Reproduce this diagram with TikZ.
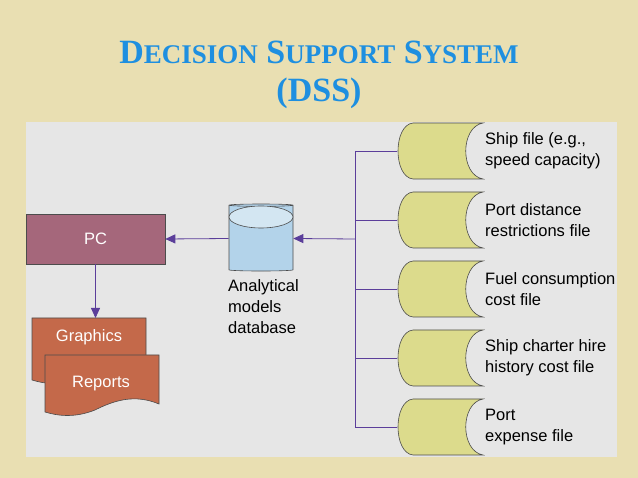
\documentclass[tikz,border=0pt]{standalone}
\usepackage{fontspec}
\setmainfont{Liberation Sans}
\newfontfamily\titlefont{Liberation Serif}
\usetikzlibrary{arrows.meta,shapes.geometric}
\definecolor{bgtan}{HTML}{E9DFB2}
\definecolor{panel}{HTML}{E6E6E6}
\definecolor{pcfill}{HTML}{A5677B}
\definecolor{docfill}{HTML}{C4694A}
\definecolor{filefill}{HTML}{DCDB8C}
\definecolor{dbfill}{HTML}{B3D3EA}
\definecolor{dbtop}{HTML}{D3E6F2}
\definecolor{linec}{HTML}{5B3E9A}
\definecolor{titleblue}{HTML}{1E8FE0}
\begin{document}
\begin{tikzpicture}[x=1pt,y=-1pt,
  lbl/.style={font=\fontsize{16.5}{21}\selectfont,align=left,anchor=west,inner sep=0pt},
  wtxt/.style={text=white,font=\fontsize{16.5}{20}\selectfont},
  conn/.style={draw=linec,line width=0.8pt},
  arr/.style={conn,-{Triangle[length=10pt,width=9pt]}},
  shp/.style={draw=black!70,line width=0.6pt}]
\useasboundingbox (0,0) rectangle (638,478);
\fill[bgtan] (0,0) rectangle (638,478);
\fill[panel] (26,122) rectangle (617,457);
\node[font=\titlefont\bfseries\fontsize{34}{38}\selectfont,text=titleblue,draw=black!60,line width=0pt,draw opacity=0] (t1) at (319,52) {D{\fontsize{27}{30}\selectfont ECISION} S{\fontsize{27}{30}\selectfont UPPORT} S{\fontsize{27}{30}\selectfont YSTEM}};
\node[font=\titlefont\bfseries\fontsize{34}{38}\selectfont,text=titleblue] (t2) at (319,93) {(DSS)};
% PC
\node[shp,fill=pcfill,minimum width=139pt,minimum height=50pt,wtxt] (pc) at (95.5,239) {PC};
% docs
\path[shp,fill=docfill] (32,318) -- (146,318) -- (146,372) .. controls (120,362) and (100,368) .. (80,378) .. controls (60,386) and (45,384) .. (32,380) -- cycle;
\node[wtxt] (gr) at (89,337) {Graphics};
\path[shp,fill=docfill] (45,355) -- (159,355) -- (159,404) .. controls (135,394) and (115,400) .. (95,410) .. controls (75,418) and (58,416) .. (45,412) -- cycle;
\node[wtxt] (rp) at (101,384) {Reports};
% database
\node[cylinder,shape border rotate=90,shp,fill=dbfill,minimum width=64pt,minimum height=67pt,aspect=0.35] (db) at (261,238.5) {};
\draw[shp,fill=dbtop] (261,217) ellipse [x radius=32pt,y radius=11pt];
\node[lbl,anchor=north west] (dbl) at (228,279) {Analytical\\models\\database};
% files
\coordinate (bus) at (355,239);
\foreach \i/\y/\t in {1/123/{Ship file (e.g.,\\speed capacity)},2/192/{Port distance\\restrictions file},3/261/{Fuel consumption\\cost file},4/330/{Ship charter hire\\history cost file},5/399/{Port\\expense file}}{
  \path[shp,fill=filefill] (413,\y) -- (483,\y) .. controls (460,\y+4) and (460,\y+52) .. (483,\y+56) -- (413,\y+56) .. controls (393,\y+54) and (393,\y+2) .. (413,\y);
  \coordinate (f\i) at (397,\y+28);
  \node[lbl] (l\i) at (485,\y+28) {\t};
}
\draw[conn] (355,151) -- (355,427);
\foreach \i in {1,...,5} \draw[conn] (f\i) -- (f\i -| bus);
\draw[arr] (bus) -- (db.east);
\draw[arr] (db.west) -- (pc.east);
\draw[arr] (pc.south) -- (pc.south |- 0,318);
\end{tikzpicture}
\end{document}
